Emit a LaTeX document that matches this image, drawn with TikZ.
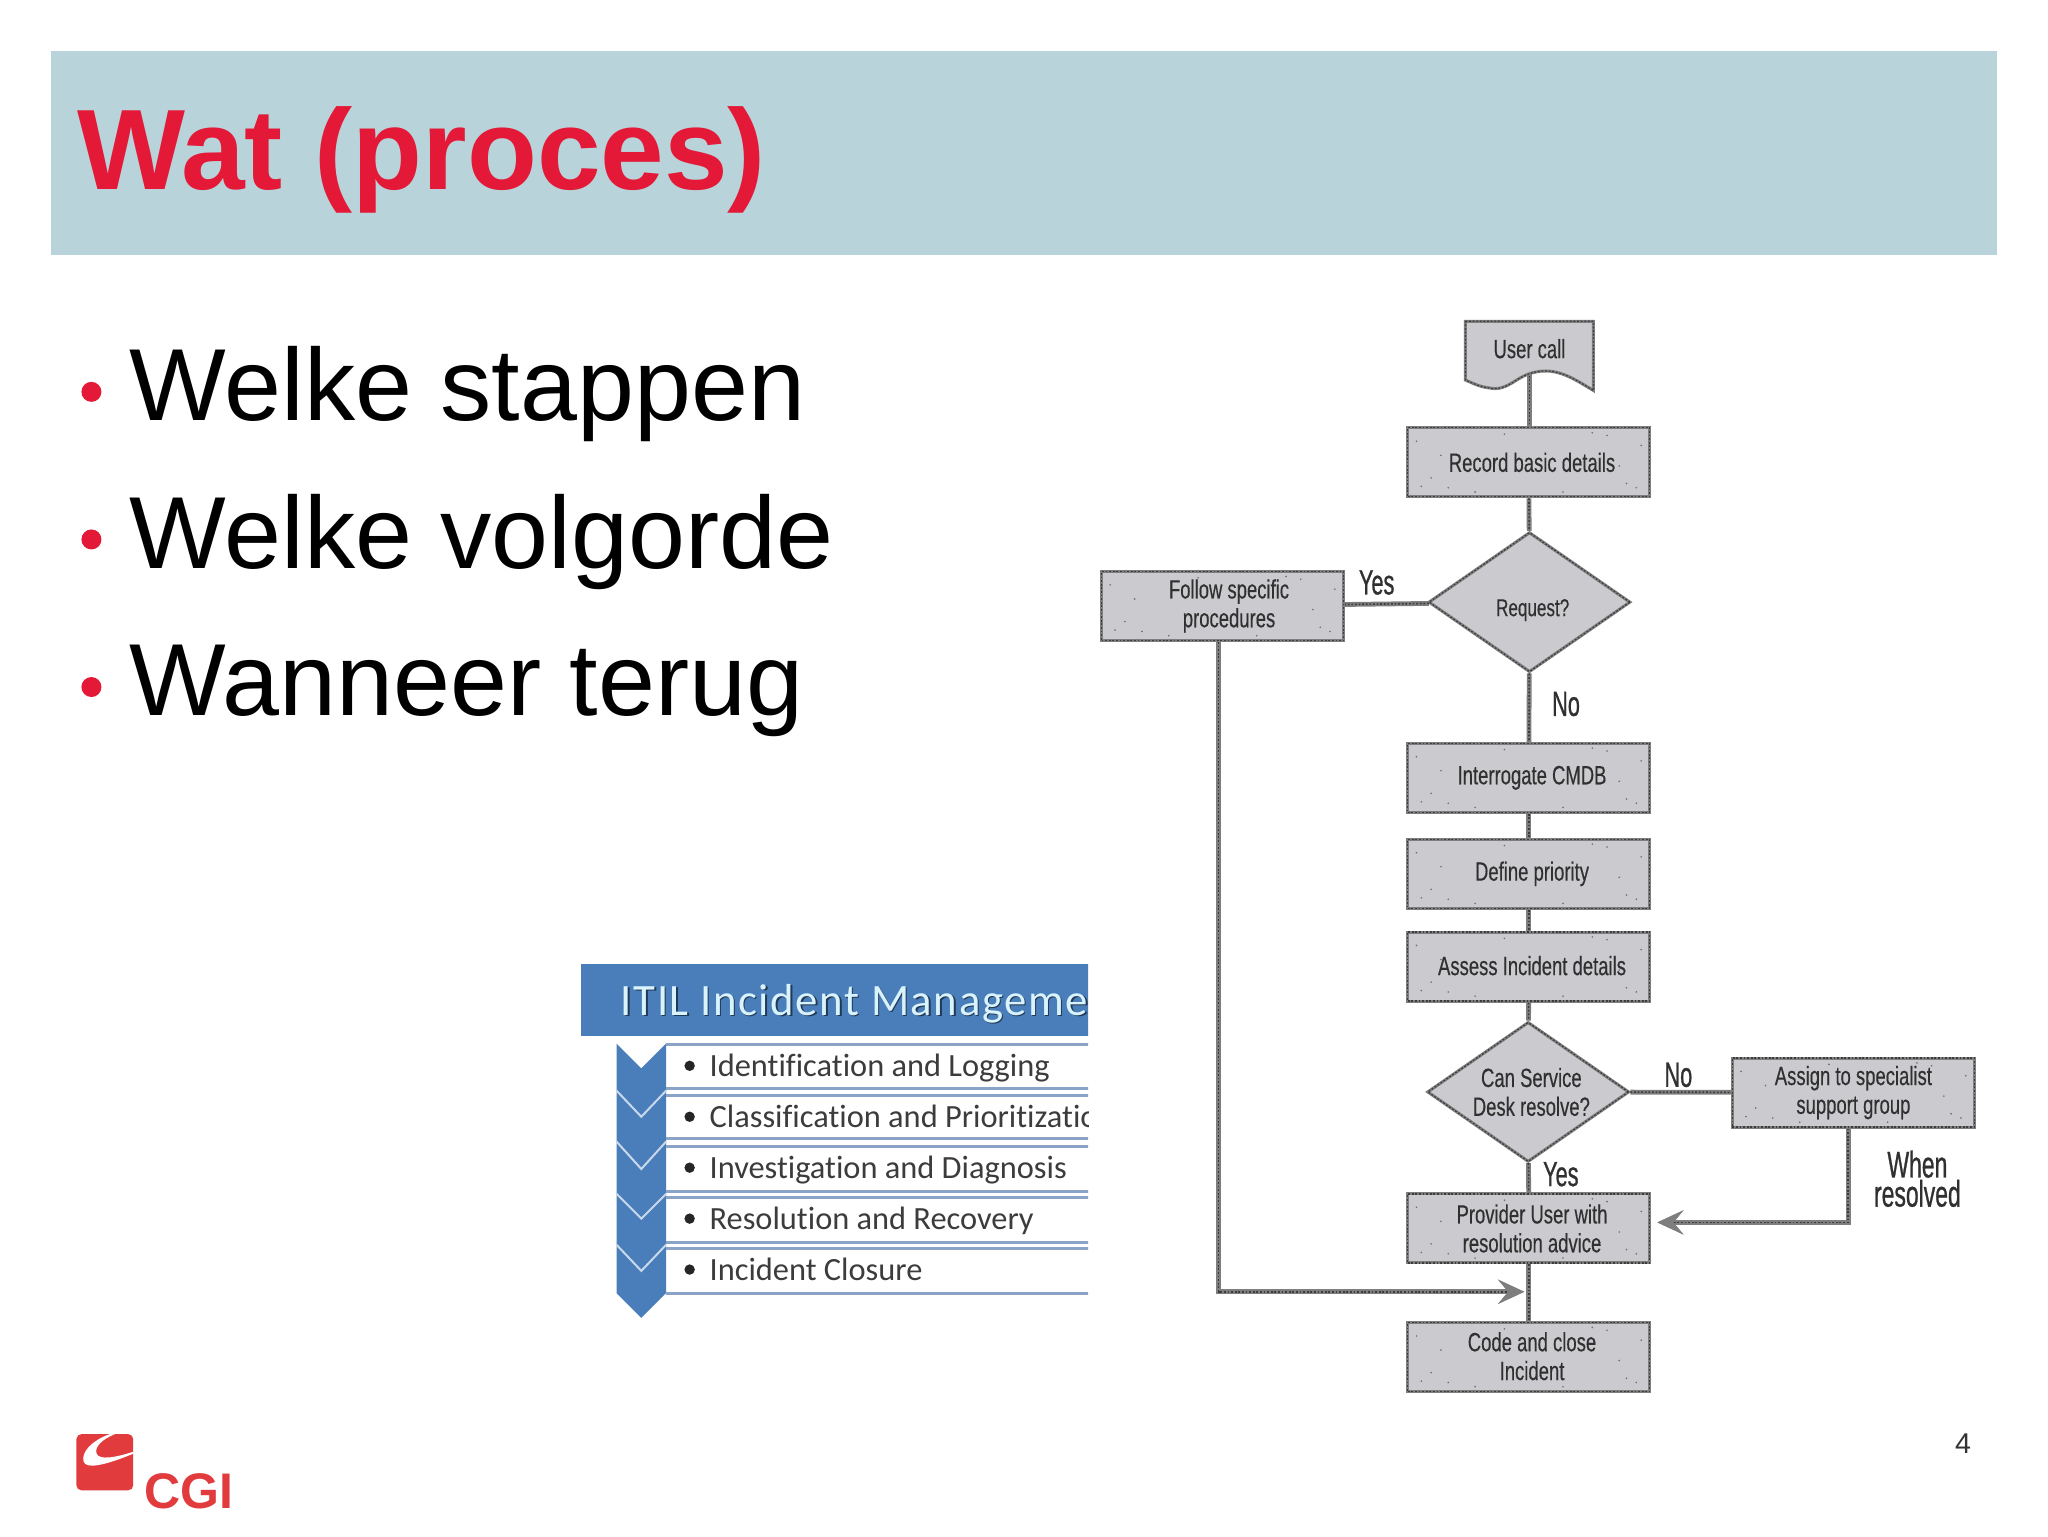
\documentclass[tikz,border=0pt]{standalone}
\usepackage{fontspec}
\setmainfont{Liberation Sans}
\newfontfamily\flowfont[FakeStretch=0.70,FakeBold=0.35]{Liberation Sans}
\newfontfamily\flowlabel[FakeStretch=0.62,FakeBold=0.7]{Liberation Sans}
\newfontfamily\itilfont[Ligatures=NoCommon]{Carlito}
\usetikzlibrary{shapes.geometric,arrows.meta,calc}
\definecolor{cgired}{HTML}{E31937}
\definecolor{logored}{HTML}{E23B3D}
\definecolor{headbg}{HTML}{B8D4DA}
\definecolor{itilblue}{HTML}{4A7EBB}
\definecolor{itilline}{HTML}{8CA3C8}
\definecolor{itiltext}{HTML}{3C3C3C}
\definecolor{flowfill}{HTML}{CBCBCF}
\definecolor{flowedge}{HTML}{7E7E7E}
\definecolor{flowdark}{HTML}{3C3C3C}
\definecolor{flowtext}{HTML}{303030}
\newcommand\sft{\hspace*{3.2pt}}
\newcommand\sftw{\hspace*{6.5pt}}
\tikzset{
  speckle/.style={draw=flowedge,line width=1.5pt,
    postaction={draw=flowdark,line width=.6pt,dash pattern=on .9pt off .9pt}},
  flowtxt/.style={font=\flowfont\fontsize{13.2}{14.4}\selectfont,text=flowtext,align=center},
  flowbox/.style={flowtxt,fill=flowfill,speckle,rectangle,inner sep=0pt,
    minimum width=121pt,minimum height=34.5pt},
  flowdia/.style={flowtxt,fill=flowfill,speckle,diamond,inner sep=0pt,shape aspect=1.43,
    minimum width=101pt,minimum height=70pt},
  flowline/.style={draw=flowedge,line width=2.4pt,
    postaction={draw=flowdark,line width=.8pt,dash pattern=on .9pt off .9pt}},
  flowarrow/.style={flowline,-{Stealth[length=13pt,width=12pt,inset=5pt,color=flowedge]}},
  flowword/.style={font=\flowlabel\fontsize{17.5}{15}\selectfont,text=flowtext,align=center},
  bulletdot/.style={circle,fill=cgired,inner sep=0pt,minimum size=10pt},
  bulletword/.style={anchor=base west,inner sep=0pt,font=\fontsize{51.2}{60}\selectfont},
  itilrow/.style={anchor=base west,inner sep=0pt,text=itiltext,font=\itilfont\fontsize{16.2}{20}\selectfont},
  itildot/.style={circle,fill=black!85,inner sep=0pt,minimum size=5.2pt},
  itilrule/.style={draw=itilline,line width=1.5pt},
  itilvee/.style={draw=white!70!itilblue,line width=1pt},
  speckdot/.style={fill=flowdark!75,inner sep=0pt}
}
\newcommand\specks[1]{%
  \foreach \sx/\sy in {-.46/-.30,-.40/.22,-.36/-.10,-.44/.34,-.33/.36,.46/-.24,.40/.30,.37/.05,.44/.36,.32/-.38,-.10/-.40,.14/.42,-.22/.42,.26/-.42}
    \fill[speckdot] ($(#1.west)!.5!(#1.east)+(\sx*187,\sy*54)$) circle (.45pt);}
\begin{document}
\begin{tikzpicture}[x=0.65306pt,y=-0.65306pt]
\useasboundingbox (0,0) rectangle (1568,1176);
\fill[white] (0,0) rectangle (1568,1176);
% header band
\fill[headbg] (39,39) rectangle (1529,195);
\node[anchor=base west,inner sep=0pt,text=cgired,font=\bfseries\fontsize{57.2}{66}\selectfont] (title) at (59,145) {Wat (proces)};
% bullets
\node[bulletdot] (b1) at (70,300) {};
\node[bulletword] (w1) at (99,322) {Welke stappen};
\node[bulletdot] (b2) at (70,413) {};
\node[bulletword] (w2) at (99,435) {Welke volgorde};
\node[bulletdot] (b3) at (70,526) {};
\node[bulletword] (w3) at (99,548) {Wanneer terug};
% ITIL picture
\begin{scope}
\clip (440,730) rectangle (833,1020);
\fill[itilblue] (445,738) rectangle (840,793);
\node[anchor=base west,inner sep=0pt,text=black!55!itilblue,font=\itilfont\fontsize{22.4}{24}\selectfont] (ititleshadow) at (476.2,778.3) {\addfontfeature{LetterSpace=3.5}ITIL Incident Manageme};
\node[anchor=base west,inner sep=0pt,text=white!85!cyan,font=\itilfont\fontsize{22.4}{24}\selectfont] (ititle) at (475,777.5) {\addfontfeature{LetterSpace=3.5}ITIL Incident Manageme};
\fill[itilblue] (472,799) -- (491,818) -- (510,799) -- (510,990) -- (491,1009) -- (472,990) -- cycle;
\foreach \ya/\yb in {835/855,874/895,914/933,953/973}
  \draw[itilvee] (472,\ya) -- (491,\yb) -- (510,\ya);
\foreach \yl in {800,833,839,872,878,912,917,951,956,990}
  \draw[itilrule] (510,\yl) -- (840,\yl);
\node[itildot] (d1) at (528,816) {};
\node[itilrow] (i1) at (543,824) {Identification and Logging};
\node[itildot] (d2) at (528,855) {};
\node[itilrow] (i2) at (543,863) {Classification and Prioritizatio};
\node[itildot] (d3) at (528,894) {};
\node[itilrow] (i3) at (543,902) {Investigation and Diagnosis};
\node[itildot] (d4) at (528,933) {};
\node[itilrow] (i4) at (543,941) {Resolution and Recovery};
\node[itildot] (d5) at (528,972) {};
\node[itilrow] (i5) at (543,980) {Incident Closure};
\end{scope}
% flow chart
\draw[flowline] (1171,285) -- (1171,327);
\draw[fill=flowfill,speckle] (1122,246) -- (1220,246) -- (1220,299)
  .. controls (1205,290) and (1192,281) .. (1175,285)
  .. controls (1160,288) and (1155,300) .. (1140,297)
  .. controls (1132,296) and (1127,293) .. (1122,291) -- cycle;
\node[flowtxt,inner sep=0pt] (usercall) at (1171,267) {User call};
\node[flowbox] (record) at (1170.5,354) {\sft Record basic details};
\node[flowdia] (request) at (1171,461) {\sft\raisebox{-7pt}[3pt][3pt]{\fontsize{12.2}{14}\selectfont Request?}};
\node[flowbox] (follow) at (936,464) {\sftw\raisebox{-1pt}{Follow specific}\\\sftw\raisebox{-1pt}{procedures}};
\node[flowbox] (cmdb) at (1170.5,595.5) {\sft\raisebox{1pt}{Interrogate CMDB}};
\node[flowbox] (priority) at (1170.5,669) {\sft Define priority};
\node[flowbox] (assess) at (1170.5,740) {\sft\raisebox{1pt}{Assess Incident details}};
\node[flowdia] (canres) at (1170,836) {\sft Can Service\\\sft Desk resolve?};
\node[flowbox] (assign) at (1419,836.5) {Assign to specialist\\support group};
\node[flowbox] (provider) at (1170.5,940.5) {\sft Provider User with\\\sft resolution advice};
\node[flowbox] (codeclose) at (1170.5,1039) {\sft\raisebox{1pt}{Code and close}\\\sft\raisebox{1pt}{Incident}};
\coordinate (merge) at (1167,989);
\draw[flowline] (record) -- (request);
\draw[flowline] (request) -- (follow);
\draw[flowline] (request) -- (cmdb);
\draw[flowline] (cmdb) -- (priority);
\draw[flowline] (priority) -- (assess);
\draw[flowline] (assess) -- (canres);
\draw[flowline] (canres) -- (assign);
\draw[flowline] (canres) -- (provider);
\draw[flowline] (provider) -- (codeclose);
\draw[flowarrow] ([xshift=-2pt]follow.south) |- (merge);
\draw[flowarrow] ([xshift=-2.6pt]assign.south) |- ([xshift=3pt,yshift=3pt]provider.east);
\foreach \nm in {record,follow,cmdb,priority,assess,assign,provider,codeclose}{\specks{\nm}}
\node[flowword] (lyes1) at (1054,446) {Yes};
\node[flowword] (lno1) at (1199,539) {No};
\node[flowword] (lno2) at (1285,823) {No};
\node[flowword] (lyes2) at (1195,899) {Yes};
\node[flowword,inner sep=0pt,font=\flowlabel\fontsize{18.5}{14.6}\selectfont] (lwhen) at (1468,902.5) {When\\resolved};
% page number
\node[inner sep=0pt,text=black!80,font=\fontsize{14.3}{16}\selectfont] (pagenum) at (1503,1105) {4};
% logo
\fill[logored,rounded corners=2.5pt] (58.5,1098) rectangle (102,1141);
\fill[white] (84,1098) .. controls (70,1103) and (62,1112) .. (64,1119)
  .. controls (66,1125) and (80,1122) .. (102,1113) -- (102,1111.5)
  .. controls (88,1116) and (76,1118) .. (74,1113) .. controls (72,1108) and (78,1102) .. (88,1098) -- cycle;
\node[anchor=base west,inner sep=0pt,text=logored,font=\bfseries\fontsize{25}{28}\selectfont] (cgi) at (110.5,1155) {CGI};
\end{tikzpicture}
\end{document}
